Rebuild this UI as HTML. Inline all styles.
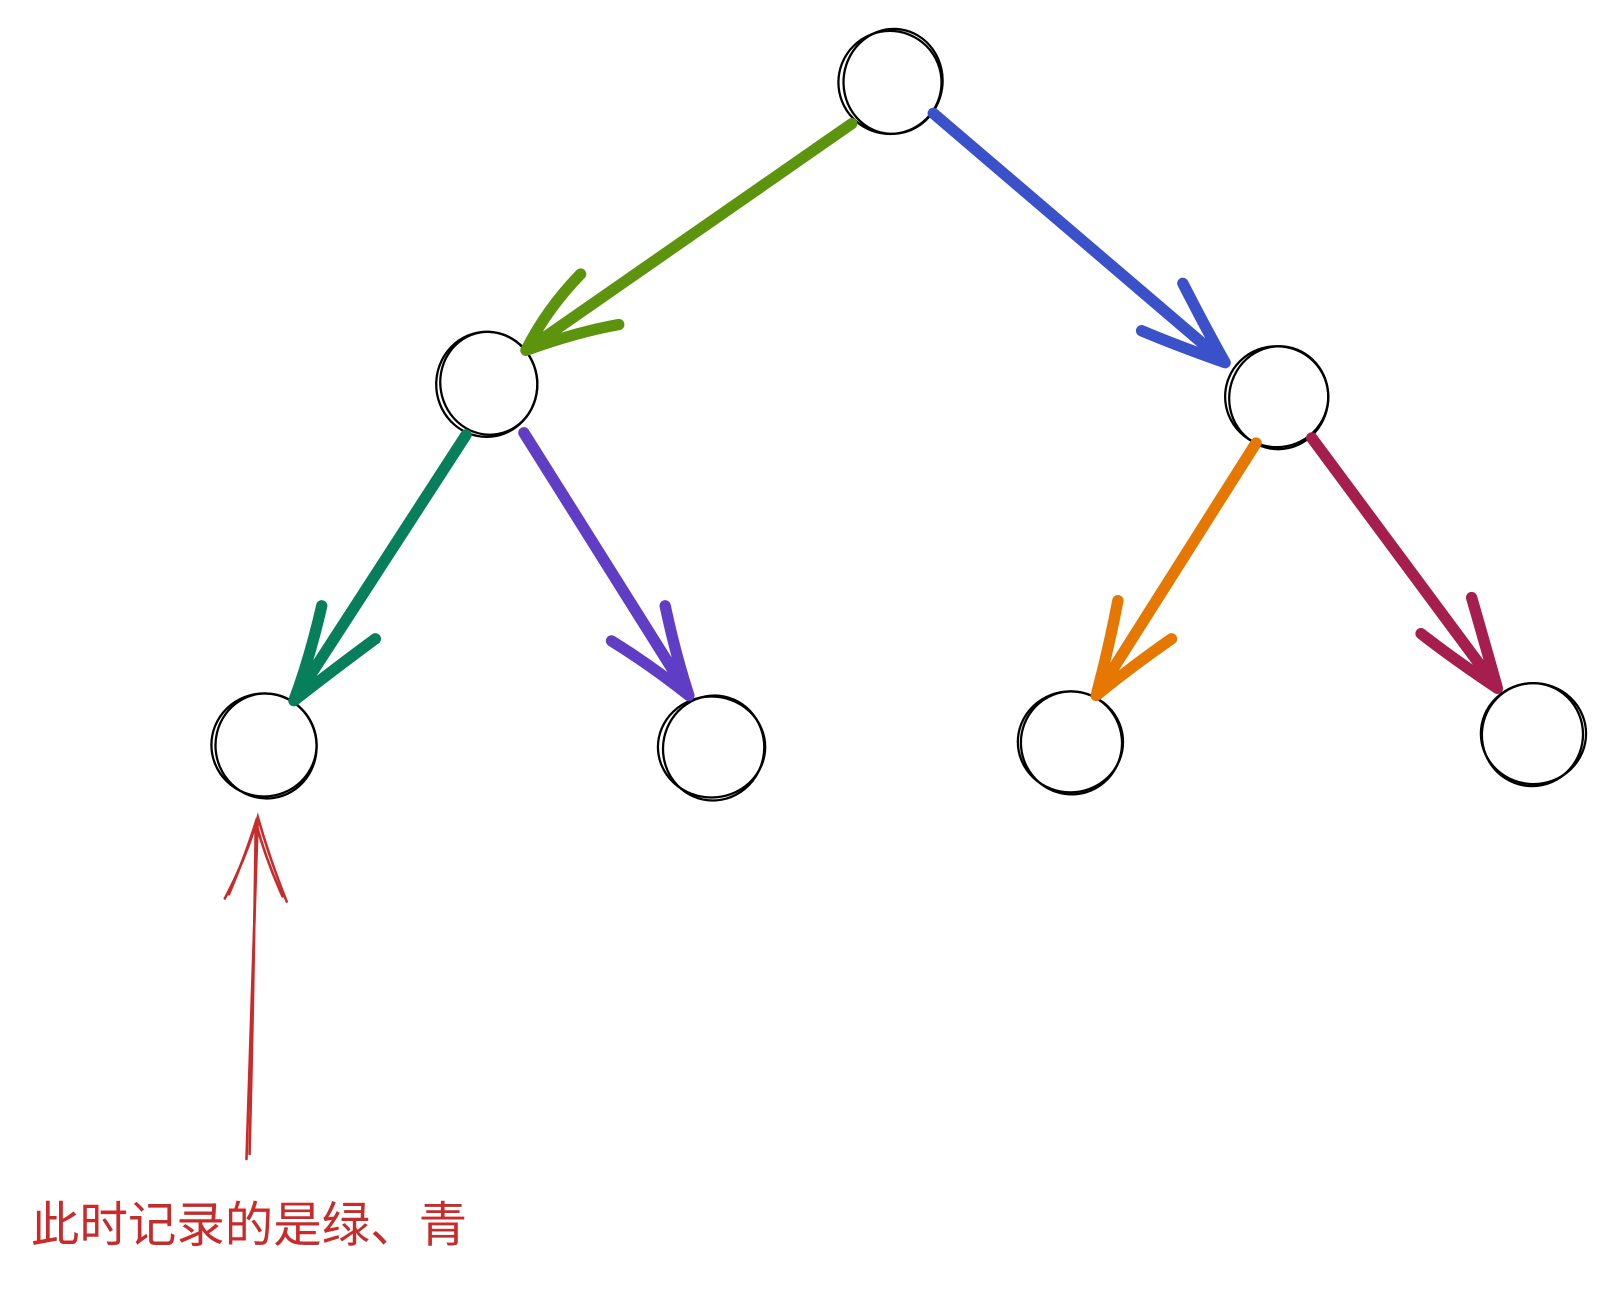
<!DOCTYPE html>
<html><head><meta charset="utf-8"><style>html,body{margin:0;padding:0;background:#fff;}svg{display:block}</style></head>
<body>
<svg width="1617" height="1290" viewBox="0 0 1568 1252" preserveAspectRatio="none" xmlns="http://www.w3.org/2000/svg">
<g fill="none" stroke="#000" stroke-width="2.2">
<ellipse cx="863" cy="80" rx="50" ry="50"/><ellipse cx="866" cy="79" rx="48" ry="51" transform="rotate(8 866 79)"/>
<ellipse cx="472" cy="373" rx="49" ry="51"/><ellipse cx="474" cy="372" rx="47" ry="50" transform="rotate(-10 474 372)"/>
<ellipse cx="1238" cy="385" rx="50" ry="49"/><ellipse cx="1240" cy="386" rx="48" ry="50" transform="rotate(10 1240 386)"/>
<ellipse cx="256" cy="723" rx="51" ry="50"/><ellipse cx="258" cy="724" rx="49" ry="51" transform="rotate(-8 258 724)"/>
<ellipse cx="690" cy="725" rx="52" ry="49"/><ellipse cx="692" cy="726" rx="49" ry="51" transform="rotate(12 692 726)"/>
<ellipse cx="1038" cy="720" rx="51" ry="49"/><ellipse cx="1039" cy="721" rx="49" ry="50" transform="rotate(-6 1039 721)"/>
<ellipse cx="1487" cy="712" rx="51" ry="49"/><ellipse cx="1486" cy="713" rx="49" ry="50" transform="rotate(10 1486 713)"/>
</g>
<g fill="none" stroke-linecap="round" stroke-linejoin="round" stroke-width="11">
<path stroke="#5c940d" d="M826 120 L510 340 M563 266 Q530 300 510 340 Q560 322 600 315"/>
<path stroke="#3b51c9" d="M905 110 L1188 352 M1147 275 Q1170 320 1188 352 Q1140 335 1107 321"/>
<path stroke="#087f5b" d="M452 422 L285 680 M312 588 Q300 640 285 680 Q330 645 364 620"/>
<path stroke="#5f3dc4" d="M508 420 L668 675 M645 588 Q655 635 668 675 Q630 645 593 622"/>
<path stroke="#e67700" d="M1218 430 L1063 675 M1084 583 Q1075 630 1063 675 Q1100 645 1136 620"/>
<path stroke="#a61e4d" d="M1272 425 L1452 668 M1427 580 Q1440 625 1452 668 Q1410 640 1378 615"/>
</g>
<g fill="none" stroke="#c92a2a" stroke-width="2.5" stroke-linecap="round">
<path d="M239 1125 Q245 960 250 793 M218 872 Q240 830 250 793 Q262 835 278 875"/>
<path d="M242 1120 Q246 960 248 798 M222 868 Q238 830 248 798 Q258 835 274 870"/>
</g>
<text x="30" y="1205" font-family="'Liberation Sans','Noto Sans CJK SC',sans-serif" font-size="47" fill="#c92a2a">此时记录的是绿、青</text>
</svg>
</body></html>
